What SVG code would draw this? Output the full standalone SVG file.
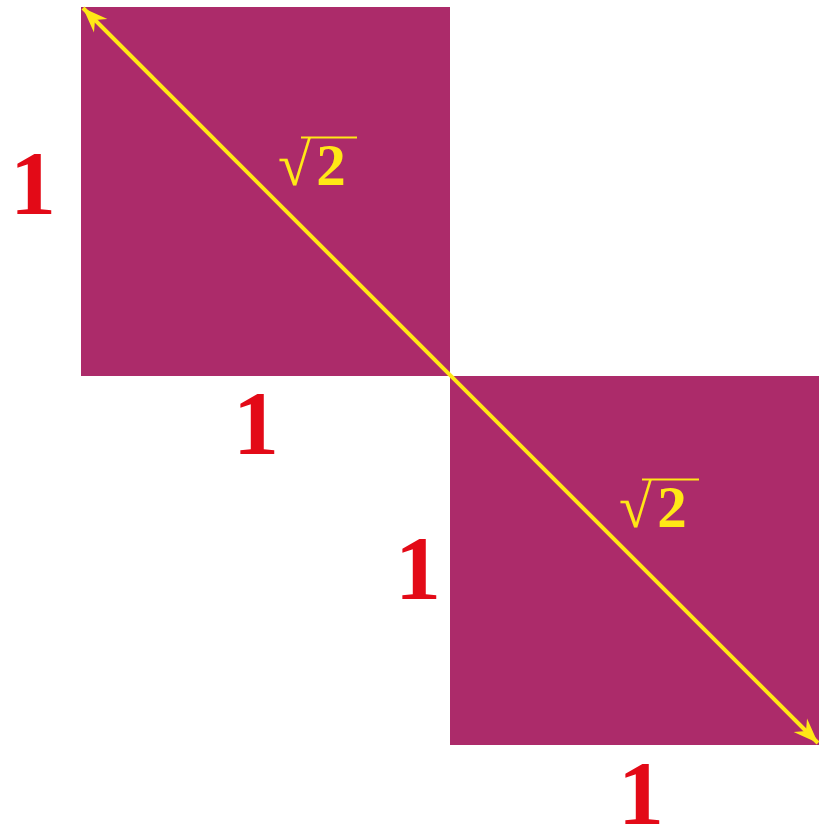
<svg xmlns="http://www.w3.org/2000/svg" width="835" height="836" viewBox="0 0 835 836">
  <style>
    .sq { fill: #AC2B6A; }
    .one { font-family: "Liberation Serif", "Times New Roman", serif; font-weight: bold; font-size: 92px; fill: #E30A17; text-anchor: middle; }
    .two { font-family: "Liberation Serif", "Times New Roman", serif; font-weight: bold; font-size: 59px; fill: #FFE816; text-anchor: middle; }
    .rad { font-family: "Liberation Serif", "Times New Roman", serif; font-size: 60px; fill: #FFE816; }
    .bar { stroke: #FFE816; stroke-width: 2.2; }
    .diag { stroke: #FFE816; stroke-width: 4; fill: none; }
  </style>
  <defs>
    <marker id="ah" viewBox="-26 -11 28 22" refX="0" refY="0" markerWidth="28" markerHeight="22" markerUnits="userSpaceOnUse" orient="auto-start-reverse">
      <path d="M0,0 L-25,-9.5 L-17,0 L-25,9.5 Z" fill="#FFE816"/>
    </marker>
  </defs>
  <rect width="835" height="836" fill="#FFFFFF"/>
  <g id="square1"><rect class="sq" x="81" y="7" width="369" height="369"/></g>
  <g id="square2"><rect class="sq" x="450" y="376" width="369" height="369"/></g>
  <g id="connectors">
    <line class="diag" x1="83" y1="8" x2="818" y2="743" marker-start="url(#ah)" marker-end="url(#ah)"/>
  </g>
  <g id="label-sqrt2-a">
    <text class="rad" x="278" y="185">√</text>
    <line class="bar" x1="301" y1="137.5" x2="357" y2="137.5"/>
    <text class="two" x="331" y="185">2</text>
  </g>
  <g id="label-sqrt2-b">
    <text class="rad" x="619" y="527">√</text>
    <line class="bar" x1="642" y1="479.5" x2="699" y2="479.5"/>
    <text class="two" x="672" y="527">2</text>
  </g>
  <g id="labels-one">
    <text class="one" x="33" y="214">1</text>
    <text class="one" x="256" y="454">1</text>
    <text class="one" x="418" y="599">1</text>
    <text class="one" x="641" y="824">1</text>
  </g>
</svg>
